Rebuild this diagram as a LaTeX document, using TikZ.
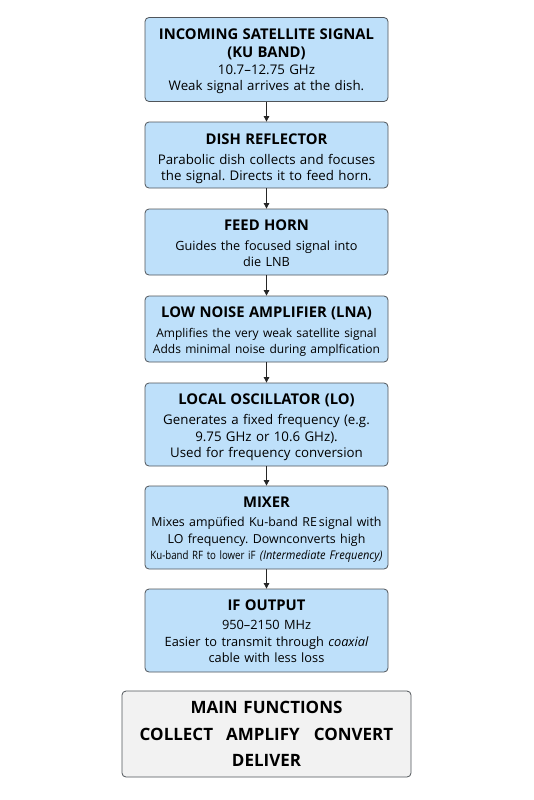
\documentclass[tikz,border=0pt]{standalone}
\usepackage{fontspec}
\usepackage{graphicx}
\setmainfont{Open Sans}
\usetikzlibrary{arrows.meta}
\definecolor{boxblue}{RGB}{190,224,250}
\definecolor{boxgray}{RGB}{242,242,242}
\definecolor{edgegray}{RGB}{80,85,90}
\tikzset{
  flowbox/.style={draw=edgegray, line width=0.8pt, fill=boxblue, rounded corners=4pt,
    minimum width=243pt, inner sep=0pt},
  flowtext/.style={text width=240pt, align=center, inner sep=0pt,
    font=\frenchspacing\fontsize{13}{16}\selectfont, text=black},
  sumbox/.style={draw=edgegray, line width=0.8pt, fill=boxgray, rounded corners=4pt,
    minimum width=289pt, minimum height=86pt, text width=285pt, align=center, inner sep=0pt,
    font=\bfseries\fontsize{17}{26.5}\selectfont, text=black},
  flowarrow/.style={draw=black!85, line width=0.8pt, -{Triangle[length=5.5pt,width=5.5pt]}}
}
\newcommand{\ttlfont}{\bfseries\fontsize{14.8}{17.5}\selectfont}
\newcommand{\bsz}[2]{\fontsize{#1}{#2}\selectfont}
\begin{document}
\begin{tikzpicture}[x=1pt,y=1pt]
\useasboundingbox[fill=white] (0,0) rectangle (533,-800);
% boxes
\node[flowbox, minimum height=84pt] (b1) at (266.5,-59.5) {};
\node[flowbox, minimum height=66pt] (b2) at (266.5,-155) {};
\node[flowbox, minimum height=66pt] (b3) at (266.5,-242) {};
\node[flowbox, minimum height=66pt] (b4) at (266.5,-329) {};
\node[flowbox, minimum height=83pt] (b5) at (266.5,-424.5) {};
\node[flowbox, minimum height=83pt] (b6) at (266.5,-527.5) {};
\node[flowbox, minimum height=83pt] (b7) at (266.5,-630.5) {};
% texts
\node[flowtext] (t1) at ([yshift=-2pt]b1.center)
  {{\ttlfont INCOMING SATELLITE SIGNAL}\\[2pt]{\ttlfont (KU BAND)}\\[1pt]
   \bsz{13.3}{16}10.7–12.75 GHz\\Weak signal arrives at the dish.};
\node[flowtext] (t2) at ([yshift=-3.5pt]b2.center)
  {{\ttlfont DISH REFLECTOR}\\[4pt]
   \bsz{13.3}{16}Parabolic dish collects and focuses\\the signal. Directs it to feed horn.};
\node[flowtext] (t3) at ([yshift=-1pt]b3.center)
  {{\ttlfont FEED HORN}\\[4pt]
   \bsz{12.7}{16}Guides the focused signal into\\die LNB};
\node[flowtext] (t4) at ([yshift=-3pt]b4.center)
  {{\ttlfont LOW NOISE AMPLIFIER (LNA)\hspace*{6pt}}\\[4pt]
   \bsz{12}{16}Amplifies the very weak satellite signal\\Adds minimal noise during amplfication};
\node[flowtext] (t5) at ([yshift=-2.5pt]b5.center)
  {{\ttlfont LOCAL OSCILLATOR (LO)}\\[3pt]
   \bsz{13.3}{17}Generates a fixed frequency (e.g.\\9.75 GHz or 10.6 GHz).\hspace*{30pt}\\Used for frequency conversion};
\node[flowtext] (t6) at ([yshift=-2pt]b6.center)
  {{\ttlfont MIXER}\\[2pt]
   \bsz{12.4}{17}Mixes ampüfied Ku-band RE\,signal with\\LO frequency. Downconverts high\\
   {\bsz{11.5}{17}\scalebox{0.84}[1]{Ku-band RF to lower iF}~\scalebox{0.92}[1]{\itshape\bsz{12}{17}(Intermediate Frequency)}}};
\node[flowtext] (t7) at ([yshift=-1pt]b7.center)
  {{\ttlfont IF OUTPUT}\\[2pt]
   \bsz{12.8}{17}950–2150 MHz\\Easier to transmit through {\itshape coaxial}\\cable with less loss};
\node[sumbox] (b8) at (266.5,-734)
  {MAIN FUNCTIONS\\COLLECT\hspace{13pt}AMPLIFY\hspace{14pt}CONVERT\\DELIVER};
% connectors
\draw[flowarrow] (b1) -- (b2);
\draw[flowarrow] (b2) -- (b3);
\draw[flowarrow] (b3) -- (b4);
\draw[flowarrow] (b4) -- (b5);
\draw[flowarrow] (b5) -- (b6);
\draw[flowarrow] (b6) -- (b7);
\end{tikzpicture}
\end{document}
